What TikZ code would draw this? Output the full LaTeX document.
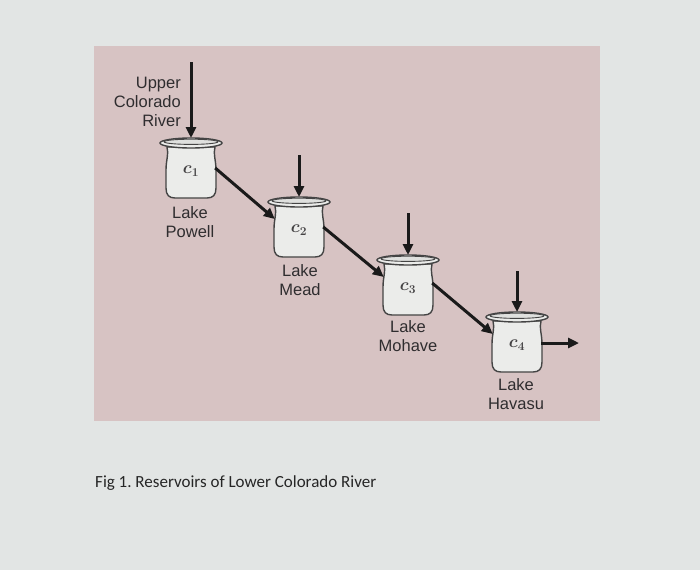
\documentclass[tikz,border=0pt]{standalone}
\usepackage{fontspec}
\setmainfont{Liberation Sans}
\newfontfamily\capfont{Carlito}
\usetikzlibrary{arrows.meta}
\definecolor{outerbg}{HTML}{E2E5E4}
\definecolor{pinkbg}{HTML}{D7C3C3}
\definecolor{cupfill}{HTML}{EBECEA}
\definecolor{cupin}{HTML}{DFE0DE}
\definecolor{cupedge}{HTML}{444444}
\definecolor{txt}{HTML}{2F2D2F}
\definecolor{arr}{HTML}{1A1A1A}
\tikzset{
  cupline/.style={draw=cupedge, line width=1.4pt, fill=cupfill},
  cup/.pic={
    \path[cupline] (-24,9) .. controls (-22,16) and (-25,22) .. (-25,32) -- (-25,50)
      .. controls (-25,57) and (-22,60) .. (-16,60) -- (16,60)
      .. controls (22,60) and (25,57) .. (25,50) -- (25,32)
      .. controls (25,22) and (22,16) .. (24,9) -- cycle;
    \path[cupline] (0,5) ellipse [x radius=31, y radius=5];
    \path[cupline, fill=cupin, line width=0.9pt] (0,3.8) ellipse [x radius=27, y radius=2.6];
  },
  cupbody/.style={minimum width=50pt, minimum height=48pt, inner sep=0pt, text=txt!90, font=\fontsize{17}{17}\selectfont\boldmath},
  lbl/.style={text=txt, inner sep=0pt, font=\fontsize{16.5}{19}\selectfont},
  flow/.style={draw=arr, line width=3pt, -{Triangle[length=11pt,width=10pt]}},
}
\begin{document}
\begin{tikzpicture}[x=1pt,y=-1pt]
  \useasboundingbox (0,0) rectangle (700,570);
  \fill[outerbg] (0,0) rectangle (700,570);
  \fill[pinkbg] (94,46) rectangle (600,421);

  % cups
  \pic at (191,138) {cup};
  \pic at (299,197) {cup};
  \pic at (408,255) {cup};
  \pic at (517,312) {cup};

  \node[cupbody] (cup1) at (191,171) {$c_1$};
  \node[cupbody] (cup2) at (299,230) {$c_2$};
  \node[cupbody] (cup3) at (408,288) {$c_3$};
  \node[cupbody] (cup4) at (517,345) {$c_4$};

  \coordinate (rim1) at (191,138);
  \coordinate (rim2) at (299,197);
  \coordinate (rim3) at (408,255);
  \coordinate (rim4) at (517,312);
  \coordinate (in1) at (191,62);
  \coordinate (in2) at (299,155);
  \coordinate (in3) at (408,213);
  \coordinate (in4) at (517,271);
  \coordinate (out4) at (579,343);

  % labels
  \node[lbl, anchor=base east] (up1) at (181,88) {Upper};
  \node[lbl, anchor=base east] (up2) at (181,107) {Colorado};
  \node[lbl, anchor=base east] (up3) at (181,126) {River};

  \node[lbl, anchor=base] (l1a) at (190,218) {Lake};
  \node[lbl, anchor=base] (l1b) at (190,237) {Powell};
  \node[lbl, anchor=base] (l2a) at (300,276) {Lake};
  \node[lbl, anchor=base] (l2b) at (300,295) {Mead};
  \node[lbl, anchor=base] (l3a) at (408,332) {Lake};
  \node[lbl, anchor=base] (l3b) at (408,351) {Mohave};
  \node[lbl, anchor=base] (l4a) at (516,390) {Lake};
  \node[lbl, anchor=base] (l4b) at (516,409) {Havasu};

  % flows
  \draw[flow] (in1) -- (rim1);
  \draw[flow] (in2) -- (rim2);
  \draw[flow] (in3) -- (rim3);
  \draw[flow] (in4) -- (rim4);
  \draw[flow] ([xshift=-1pt,yshift=3pt]cup1.east) -- ([xshift=1pt,yshift=11pt]cup2.west);
  \draw[flow] ([xshift=-1pt,yshift=3pt]cup2.east) -- ([xshift=1pt,yshift=11pt]cup3.west);
  \draw[flow] ([xshift=-1pt,yshift=5pt]cup3.east) -- ([xshift=1pt,yshift=11pt]cup4.west);
  \draw[flow] ([xshift=-1pt,yshift=2pt]cup4.east) -- (out4);

  % caption
  \node[anchor=base west, inner sep=0pt, text=black!85, font=\capfont\fontsize{17}{17}\selectfont] (cap) at (95,487) {\frenchspacing Fig 1. Reservoirs of Lower Colorado River};
\end{tikzpicture}
\end{document}
